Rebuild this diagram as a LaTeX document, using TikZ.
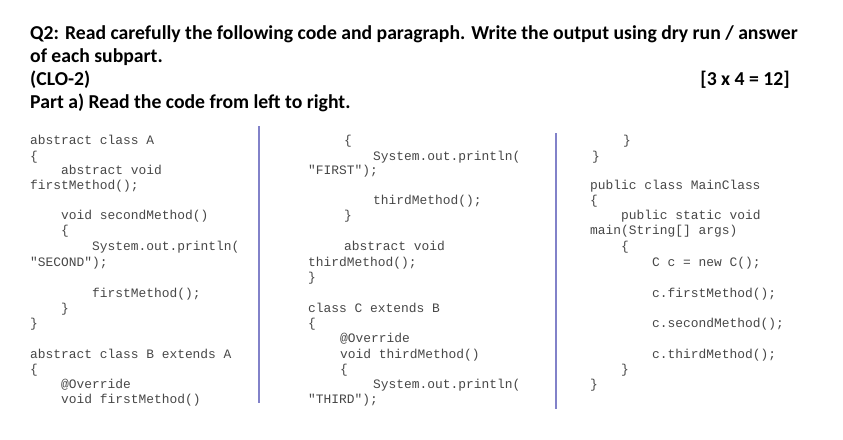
\documentclass[tikz,border=0pt]{standalone}
\usepackage{fontspec}
\setmainfont{Carlito}
\setmonofont{Liberation Mono}
\begin{document}
\begin{tikzpicture}[x=1pt,y=-1pt,
  head/.style={anchor=base west,inner sep=0pt,font=\bfseries\fontsize{19.7}{22}\selectfont,text=black},
  code/.style={anchor=base west,inner sep=0pt,font=\ttfamily\fontsize{12.9}{14}\selectfont,text=black!72},
  sep/.style={draw=blue!40!gray!70,line width=1.4pt}]
\useasboundingbox (0,0) rectangle (843,439);
\node[head] (h1) at (30,39) {Q2: Read carefully the following code and paragraph. Write the output using dry run / answer};
\node[head] (h2) at (30,62) {of each subpart.};
\node[head] (h3) at (30,85) {(CLO-2)};
\node[head,anchor=base east] (h5) at (790,85) {[3 x 4 = 12]};
\node[head] (h4) at (30,108) {Part a) Read the code from left to right.};
% column 1
\foreach \i/\x/\y/\t in {1/30/144/abstract class A, 2/30/160/\{, 3/61/174/abstract void, 4/30/189/firstMethod();,
  5/61/219/void secondMethod(), 6/61/234/\{, 7/92/250/System.out.println(, 8/30/266/"SECOND");,
  9/92/297/firstMethod();, 10/61/312/\}, 11/30/327/\}, 12/30/358/abstract class B extends A,
  13/30/373/\{, 14/61/388/@Override, 15/61/403/void firstMethod()}
  \node[code] (a\i) at (\x,\y) {\t};
% column 2
\foreach \i/\x/\y/\t in {1/344/144/\{, 2/373/160/System.out.println(, 3/308/174/"FIRST");, 4/373/204/thirdMethod();,
  5/344/219/\}, 6/344/250/abstract void, 7/308/266/thirdMethod();, 8/308/281/\},
  9/308/312/class C extends B, 10/308/327/\{, 11/340/342/@Override, 12/340/358/void thirdMethod(),
  13/340/373/\{, 14/373/388/System.out.println(, 15/308/403/"THIRD");}
  \node[code] (b\i) at (\x,\y) {\t};
% column 3
\foreach \i/\x/\y/\t in {1/623/144/\}, 2/592/160/\}, 3/590/189/public class MainClass, 4/590/204/\{,
  5/621/219/public static void, 6/590/234/main(String[] args), 7/621/250/\{, 8/652/266/C c = new C();,
  9/652/297/c.firstMethod();, 10/652/327/c.secondMethod();, 11/652/358/c.thirdMethod();, 12/621/373/\}, 13/590/388/\}}
  \node[code] (c\i) at (\x,\y) {\t};
\coordinate (s1t) at (259,126); \coordinate (s1b) at (259,403);
\coordinate (s2t) at (556,133); \coordinate (s2b) at (556,409);
\draw[sep] (s1t) -- (s1b);
\draw[sep] (s2t) -- (s2b);
\end{tikzpicture}
\end{document}
